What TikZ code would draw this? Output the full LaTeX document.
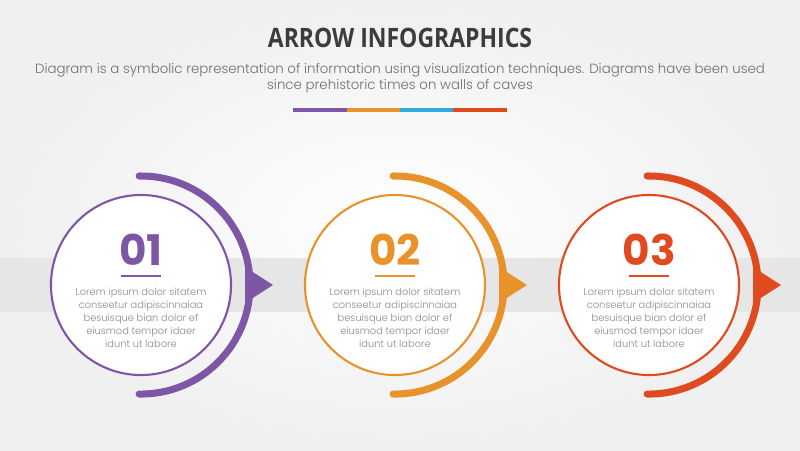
\documentclass[tikz,border=0pt]{standalone}
\usepackage{fontspec}
\setmainfont{Poppins}
\newfontfamily\lightfont{Poppins Light}
\newfontfamily\titlefont{Open Sans}[FakeStretch=0.86]
\usetikzlibrary{positioning, calc}

\definecolor{stepviolet}{HTML}{7D57A6}
\definecolor{steporange}{HTML}{E8922B}
\definecolor{stepblue}{HTML}{2EAADC}
\definecolor{stepred}{HTML}{E04A1F}
\definecolor{titlegray}{HTML}{3C3C3C}
\definecolor{bodygray}{HTML}{8A8A8A}
\definecolor{bandgray}{HTML}{E6E6E6}

\begin{document}
\begin{tikzpicture}[x=0.025cm, y=-0.025cm, line width=0.5pt,
    ring/.style={circle, draw, fill=white, line width=1.5pt, minimum size=4.5cm},
    num/.style={font=\fontsize{30}{30}\selectfont\bfseries},
    body/.style={align=center, text=bodygray, font=\lightfont\fontsize{7}{9.2}\selectfont},
    bow/.style={line width=5pt, line cap=round},
    rule/.style={line width=1.8pt}]
        \useasboundingbox (0,0) rectangle (800,450);
        \shade[inner color=white, outer color=black!6] (0,0) rectangle (800,450);
        \fill[bandgray] (0,258) rectangle (800,312);

        % heading
        \node [font=\titlefont\bfseries\fontsize{19}{19}\selectfont, text=titlegray] (title) at (400,38) {ARROW INFOGRAPHICS};
        \node [align=center, text=bodygray!80!black, font=\lightfont\fontsize{9.5}{11.4}\selectfont] (sub) at (400,78) {Diagram is a symbolic representation of information using visualization techniques. Diagrams have been used\\since prehistoric times on walls of caves};
        \draw [stepviolet, line width=2.2pt] (293,110) -- (347,110);
        \draw [steporange, line width=2.2pt] (347,110) -- (400,110);
        \draw [stepblue, line width=2.2pt] (400,110) -- (453,110);
        \draw [stepred, line width=2.2pt] (453,110) -- (507,110);

        % step 1
        \node [ring, draw=stepviolet] (c1) at (141,285) {};
        \draw [bow, stepviolet] ($(c1)+(91:2.725cm)$) arc[start angle=91, end angle=-91, radius=2.725cm];
        \fill [stepviolet] ($(c1)+(104,-18)$) -- ($(c1)+(132,0)$) -- ($(c1)+(104,18)$) -- cycle;
        \node [num, text=stepviolet] (n1) at ($(c1)+(0,-35)$) {01};
        \draw [rule, stepviolet] ($(c1)+(-20,-9)$) -- ($(c1)+(20,-9)$);
        \node [body] (t1) at ($(c1)+(0,33)$) {Lorem ipsum dolor sitatem\\conseetur adipiscinnaiaa\\besuisque bian dolor ef\\eiusmod tempor idaer\\idunt ut labore};

        % step 2
        \node [ring, draw=steporange] (c2) at (395,285) {};
        \draw [bow, steporange] ($(c2)+(91:2.725cm)$) arc[start angle=91, end angle=-91, radius=2.725cm];
        \fill [steporange] ($(c2)+(104,-18)$) -- ($(c2)+(132,0)$) -- ($(c2)+(104,18)$) -- cycle;
        \node [num, text=steporange] (n2) at ($(c2)+(0,-35)$) {02};
        \draw [rule, steporange] ($(c2)+(-20,-9)$) -- ($(c2)+(20,-9)$);
        \node [body] (t2) at ($(c2)+(0,33)$) {Lorem ipsum dolor sitatem\\conseetur adipiscinnaiaa\\besuisque bian dolor ef\\eiusmod tempor idaer\\idunt ut labore};

        % step 3
        \node [ring, draw=stepred] (c3) at (649,285) {};
        \draw [bow, stepred] ($(c3)+(91:2.725cm)$) arc[start angle=91, end angle=-91, radius=2.725cm];
        \fill [stepred] ($(c3)+(104,-18)$) -- ($(c3)+(132,0)$) -- ($(c3)+(104,18)$) -- cycle;
        \node [num, text=stepred] (n3) at ($(c3)+(0,-35)$) {03};
        \draw [rule, stepred] ($(c3)+(-20,-9)$) -- ($(c3)+(20,-9)$);
        \node [body] (t3) at ($(c3)+(0,33)$) {Lorem ipsum dolor sitatem\\conseetur adipiscinnaiaa\\besuisque bian dolor ef\\eiusmod tempor idaer\\idunt ut labore};
    \end{tikzpicture}
\end{document}
